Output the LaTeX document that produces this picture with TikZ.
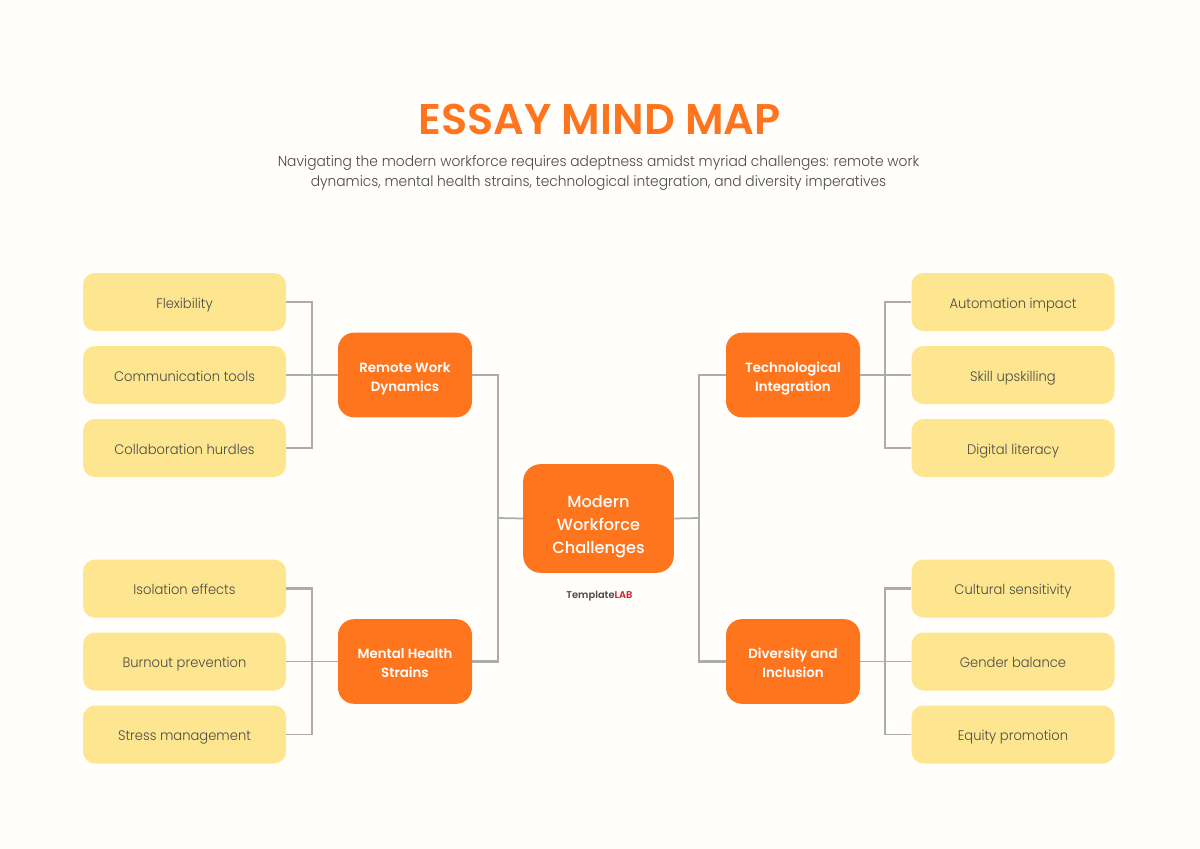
\documentclass[tikz,border=0pt]{standalone}
\usepackage{fontspec}
\setmainfont{Poppins}
\newfontfamily\bodyfont[FakeStretch=0.95]{Poppins Light}
\newfontfamily\medfont{Poppins Medium}
\newfontfamily\titlefont{Poppins SemiBold}
\definecolor{bgc}{HTML}{FFFEFB}
\definecolor{orangec}{HTML}{FF751D}
\definecolor{yellowc}{HTML}{FDE68F}
\definecolor{linec}{HTML}{ADADA8}
\definecolor{textc}{HTML}{4A4A46}
\definecolor{labred}{HTML}{D0202E}
\tikzset{
  x=0.75pt,y=-0.75pt,
  leaf/.style={fill=yellowc,rounded corners=9pt,minimum width=152.25pt,minimum height=43.5pt,inner sep=0pt,text=textc,font=\bodyfont\fontsize{10.35}{13}\selectfont,text height=11pt,text depth=2pt,align=center},
  branch/.style={fill=orangec,rounded corners=12pt,minimum width=100.5pt,minimum height=63.5pt,inner sep=0pt,text=white,font=\titlefont\fontsize{10}{14}\selectfont,align=center,text height=26pt,text depth=2pt},
  hub/.style={fill=orangec,rounded corners=13pt,minimum width=113pt,minimum height=81.5pt,inner sep=0pt,text=white,font=\medfont\fontsize{12.1}{17.2}\selectfont,align=center,text height=54pt,text depth=2pt},
  conn/.style={draw=linec,line width=1.3pt},
  connthick/.style={draw=linec,line width=1.9pt},
}
\begin{document}
\begin{tikzpicture}
\useasboundingbox (0,0) rectangle (1200,849);
\fill[bgc] (0,0) rectangle (1200,849);
\node[text=orangec,font=\titlefont\fontsize{32.2}{38}\selectfont,inner sep=0pt] (title) at (599.5,119) {ESSAY MIND MAP};
\node[text=textc,font=\bodyfont\fontsize{10.9}{15}\selectfont,align=center,inner sep=0pt] (sub) at (598.5,172.5) {Navigating the modern workforce requires adeptness amidst myriad challenges: remote work\\dynamics, mental health strains, technological integration, and diversity imperatives};
\coordinate (busA) at (312,375);
\coordinate (busB) at (312,661);
\coordinate (busC) at (885,375);
\coordinate (busD) at (885,661);
\coordinate (busL) at (498,518);
\coordinate (busR) at (699,518);
\node[hub] (hubn) at (598.5,518.5) {Modern\\Workforce\\Challenges};
\node[branch] (rw) at (405,375) {Remote Work\\Dynamics};
\node[branch] (mh) at (405,661.5) {Mental Health\\Strains};
\node[branch] (ti) at (793,375) {Technological\\Integration};
\node[branch] (di) at (793,661.5) {Diversity and\\Inclusion};
\node[leaf] (a1) at (184.5,302) {Flexibility};
\node[leaf] (a2) at (184.5,375) {Communication tools};
\node[leaf] (a3) at (184.5,448) {Collaboration hurdles};
\node[leaf] (b1) at (184.5,588.5) {Isolation effects};
\node[leaf] (b2) at (184.5,661.5) {Burnout prevention};
\node[leaf] (b3) at (184.5,734.5) {Stress management};
\node[leaf] (c1) at (1013,302) {Automation impact};
\node[leaf] (c2) at (1013,375) {Skill upskilling};
\node[leaf] (c3) at (1013,448) {Digital literacy};
\node[leaf] (d1) at (1013,588.5) {Cultural sensitivity};
\node[leaf] (d2) at (1013,661.5) {Gender balance};
\node[leaf] (d3) at (1013,734.5) {Equity promotion};
\node[font=\titlefont\fontsize{7.4}{10}\selectfont,inner sep=0pt,text=textc] (logo) at (599.5,596) {Template\textcolor{labred}{LAB}};
% connectors
\draw[conn] (a1.east) -| (busA);
\draw[conn] (busA) |- (a3.east);
\draw[connthick] (a2.east) -- (rw.west);
\draw[connthick] (b1.east) -| (busB);
\draw[conn] (busB) |- (b3.east);
\draw[conn] (b2.east) -- (mh.west);
\draw[conn] (c1.west) -| (busC);
\draw[conn] (busC) |- (c3.west);
\draw[connthick] (c2.west) -- (ti.east);
\draw[connthick] (d1.west) -| (busD);
\draw[conn] (busD) |- (d3.west);
\draw[conn] (d2.west) -- (di.east);
\draw[conn] (rw.east) -| (busL);
\draw[connthick] (busL) |- (mh.east);
\draw[conn] (busL) -- (hubn.west);
\draw[connthick] (ti.west) -| (busR);
\draw[connthick] (busR) |- (di.west);
\draw[conn] (hubn.east) -- (busR);
\end{tikzpicture}
\end{document}
